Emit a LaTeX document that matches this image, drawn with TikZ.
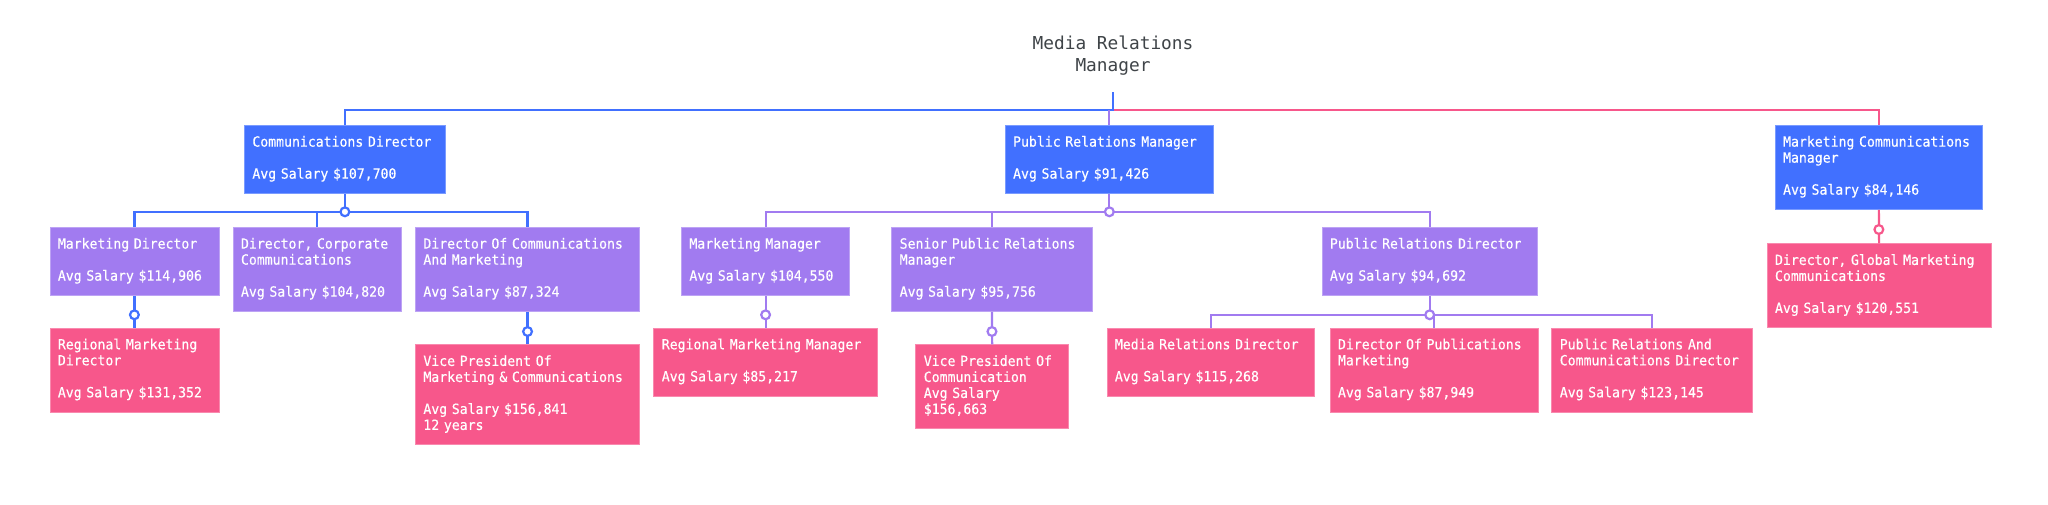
\documentclass[tikz,border=0pt]{standalone}
\usepackage{fontspec}
\usetikzlibrary{calc}
\newfontfamily\boxfont[FakeStretch=0.94, FakeBold=0.4]{DejaVu Sans Mono}
\newfontfamily\rootfont{DejaVu Sans Mono}
\definecolor{cblue}{HTML}{4170FF}
\definecolor{cpurple}{HTML}{A17BF0}
\definecolor{cpink}{HTML}{F7578B}
\definecolor{croot}{HTML}{3F4448}
\tikzset{
  box/.style={rectangle, anchor=north west, fill=#1, draw=#1!70!white, line width=0.8pt,
    text=white, align=left, inner xsep=8pt, inner ysep=0pt,
    font=\boxfont\fontsize{14}{16}\selectfont,
    execute at begin node=\strut, execute at end node=\strut},
  wire/.style={draw=#1, line width=2.2pt},
  knob/.style={circle, draw=#1, fill=white, line width=2.2pt, minimum size=8.8pt, inner sep=0pt},
}
\begin{document}
\begin{tikzpicture}[x=1pt, y=-1pt]
\useasboundingbox (0,0) rectangle (2048,504);
\fill[white] (0,0) rectangle (2048,504);

% root
\node[font=\rootfont\fontsize{17.8}{22}\selectfont, text=croot, align=center,
      minimum height=72pt, inner sep=0pt] (root) at (1113,56) {Media Relations\\Manager};

% level 1
\node[box=cblue, minimum width=201pt, text width=185pt, minimum height=68pt] (cd) at (244,125)
  {Communications Director\\[16pt]Avg Salary \$107,700};
\node[box=cblue, minimum width=208.5pt, text width=192.5pt, minimum height=68pt] (prm) at (1004.7,125)
  {Public Relations Manager\\[16pt]Avg Salary \$91,426};
\node[box=cblue, minimum width=207.5pt, text width=191.5pt, minimum height=84pt] (mcm) at (1774.7,125)
  {Marketing Communications\\Manager\\[16pt]Avg Salary \$84,146};

% level 2
\node[box=cpurple, minimum width=169pt, text width=153pt, minimum height=68pt] (md) at (49.5,227)
  {Marketing Director\\[16pt]Avg Salary \$114,906};
\node[box=cpurple, minimum width=168pt, text width=152pt, minimum height=84pt] (dcc) at (232.6,227)
  {Director, Corporate\\Communications\\[16pt]Avg Salary \$104,820};
\node[box=cpurple, minimum width=224.3pt, text width=208.3pt, minimum height=84pt] (docm) at (415,227)
  {Director Of Communications\\And Marketing\\[16pt]Avg Salary \$87,324};
\node[box=cpurple, minimum width=168.4pt, text width=152.4pt, minimum height=68pt] (mm) at (681,227)
  {Marketing Manager\\[16pt]Avg Salary \$104,550};
\node[box=cpurple, minimum width=200.5pt, text width=184.5pt, minimum height=84pt] (sprm) at (891.3,227)
  {Senior Public Relations\\Manager\\[16pt]Avg Salary \$95,756};
\node[box=cpurple, minimum width=215.6pt, text width=199.6pt, minimum height=68pt] (prd) at (1321.5,227)
  {Public Relations Director\\[16pt]Avg Salary \$94,692};

% level 3
\node[box=cpink, minimum width=169pt, text width=153pt, minimum height=84pt] (rmd) at (49.5,327.7)
  {Regional Marketing\\Director\\[16pt]Avg Salary \$131,352};
\node[box=cpink, minimum width=224.3pt, text width=208.3pt, minimum height=100pt] (vpmc) at (415,344.3)
  {Vice President Of\\Marketing \& Communications\\[16pt]Avg Salary \$156,841\\12 years};
\node[box=cpink, minimum width=223.6pt, text width=207.6pt, minimum height=68pt] (rmm) at (653.4,327.7)
  {Regional Marketing Manager\\[16pt]Avg Salary \$85,217};
\node[box=cpink, minimum width=152.7pt, text width=136.7pt, minimum height=84pt] (vpc) at (915.4,344.3)
  {Vice President Of\\Communication\\Avg Salary\\\$156,663};
\node[box=cpink, minimum width=207.6pt, text width=191.6pt, minimum height=68pt] (mrd) at (1106.5,327.7)
  {Media Relations Director\\[16pt]Avg Salary \$115,268};
\node[box=cpink, minimum width=208pt, text width=192pt, minimum height=84pt] (dpm) at (1329.6,327.7)
  {Director Of Publications\\Marketing\\[16pt]Avg Salary \$87,949};
\node[box=cpink, minimum width=200.9pt, text width=184.9pt, minimum height=84pt] (prcd) at (1551.4,327.7)
  {Public Relations And\\Communications Director\\[16pt]Avg Salary \$123,145};
\node[box=cpink, minimum width=224.2pt, text width=208.2pt, minimum height=84pt] (dgmc) at (1766.6,243.3)
  {Director, Global Marketing\\Communications\\[16pt]Avg Salary \$120,551};

% top-level connectors
\coordinate (b0) at (1113,110);
\draw[wire=cpink] (b0) -| (mcm.north);
\draw[wire=cblue] (root.south) -- (b0) -| (cd.north);
\draw[wire=cpurple] (prm.north |- b0) -- (prm.north);

% communications director subtree
\coordinate (cdb) at ($(cd.south)+(0,18)$);
\draw[wire=cblue] (cd.south) -- (cdb);
\draw[wire=cblue] (md.north) |- (cdb) -| (docm.north);
\draw[wire=cblue] (dcc.north) -- (dcc.north |- cdb);
\draw[wire=cblue] (md.south) -- (rmd.north);
\draw[wire=cblue] (docm.south) -- (vpmc.north);

% public relations manager subtree
\coordinate (prb) at ($(prm.south)+(0,18)$);
\draw[wire=cpurple] (prm.south) -- (prb);
\draw[wire=cpurple] (mm.north) |- (prb) -| (prd.north);
\draw[wire=cpurple] (sprm.north) -- (sprm.north |- prb);
\draw[wire=cpurple] (mm.south) -- (rmm.north);
\draw[wire=cpurple] (sprm.south) -- (vpc.north);
\coordinate (pdb) at ($(prd.south)+(0,19)$);
\draw[wire=cpurple] (prd.south) -- (pdb);
\draw[wire=cpurple] (mrd.north) |- (pdb) -| (prcd.north);
\draw[wire=cpurple] (dpm.north) -- (dpm.north |- pdb);

% marketing communications manager subtree
\draw[wire=cpink] (mcm.south) -- (dgmc.north);

% knobs
\node[knob=cblue] (k1) at (cdb) {};
\node[knob=cblue] (k2) at ($(md.south)+(0,19)$) {};
\node[knob=cblue] (k3) at ($(docm.south)+(0,19.7)$) {};
\node[knob=cpurple] (k4) at (prb) {};
\node[knob=cpurple] (k5) at ($(mm.south)+(0,19)$) {};
\node[knob=cpurple] (k6) at ($(sprm.south)+(0,19.7)$) {};
\node[knob=cpurple] (k7) at (pdb) {};
\node[knob=cpink] (k8) at ($(mcm.south)+(0,19.7)$) {};
\end{tikzpicture}
\end{document}
